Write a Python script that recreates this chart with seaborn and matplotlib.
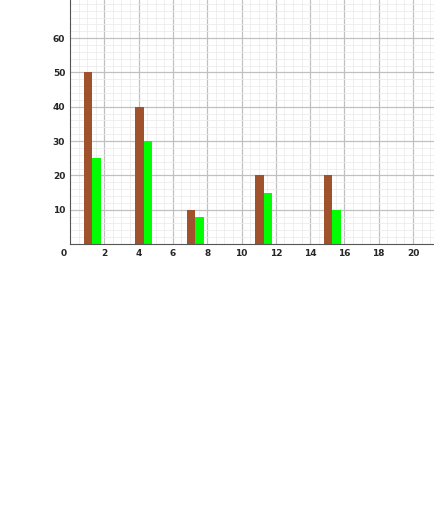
import seaborn as sns
import matplotlib.pyplot as plt
import numpy as np
from matplotlib.ticker import MultipleLocator

positions = np.array([1, 4, 7, 11, 15])
brown_values = [50, 40, 10, 20, 20]
green_values = [25, 30, 8, 15, 10]

sns.set_style('white')
fig = plt.figure(figsize=(4.35, 5.12), dpi=100)
ax = fig.add_axes([70 / 435, 268 / 512, 365 / 435, 244 / 512])

bw = 0.5
rel = bw / 3  # native_scale width is relative to smallest spacing
sns.barplot(x=positions + 0.05, y=brown_values, native_scale=True, width=rel,
            color='#a0522d', saturation=1, ax=ax, edgecolor='none')
sns.barplot(x=positions + 0.55, y=green_values, native_scale=True, width=rel,
            color='#00ff00', saturation=1, ax=ax, edgecolor='none')

ax.set_xlim(0, 21.28)
ax.set_ylim(0, 71.1)
ax.xaxis.set_major_locator(MultipleLocator(2))
ax.xaxis.set_minor_locator(MultipleLocator(0.5))
ax.yaxis.set_major_locator(MultipleLocator(10))
ax.yaxis.set_minor_locator(MultipleLocator(2))
ax.grid(which='major', color='#c0c0c0', lw=0.9)
ax.grid(which='minor', color='#ececec', lw=0.6)
ax.set_axisbelow(True)
for s in ['top', 'right']:
    ax.spines[s].set_visible(False)
for s in ['left', 'bottom']:
    ax.spines[s].set_color('#555555')
    ax.spines[s].set_linewidth(0.8)
ax.set_xticks(range(2, 21, 2))
ax.set_yticks(range(10, 61, 10))
ax.tick_params(length=0, labelsize=6.5)
for t in ax.get_xticklabels() + ax.get_yticklabels():
    t.set_fontweight('bold')
ax.text(-0.2, -1.5, '0', ha='right', va='top', fontsize=6.5, fontweight='bold')
ax.set_xlabel('')
ax.set_ylabel('')
fig.savefig('out.png', dpi=100, facecolor='white')
